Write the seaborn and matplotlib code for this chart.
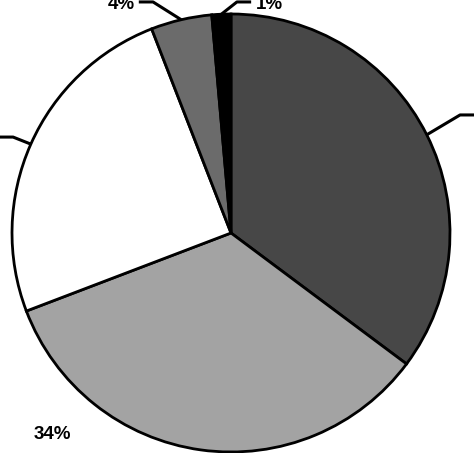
import numpy as np
import seaborn as sns
import matplotlib.pyplot as plt

# slice shares (percent), clockwise from 12 o'clock
shares = [35.2, 34.0, 24.9, 4.5, 1.4]
labels = ['35%', '34%', '25%', '4%', '1%']
colors = ['#474747', '#a3a3a3', '#ffffff', '#6b6b6b', '#000000']

sns.set_style('white')
plt.rcParams['font.family'] = ['Liberation Sans', 'DejaVu Sans']

fig = plt.figure(figsize=(4.74, 4.53), dpi=100)
ax = fig.add_axes([0, 0, 1, 1])

wedges, _ = ax.pie(shares, colors=colors, startangle=90, counterclock=False,
                   wedgeprops=dict(edgecolor='black', linewidth=2))

# elbow points of the leader lines (None = label without leader)
elbows = [(1.046, 0.539), None, (-0.995, 0.438), (-0.356, 1.055), (0.027, 1.055)]
free_pos = {1: (-0.817, -0.918)}

for i, w in enumerate(wedges):
    if elbows[i] is None:
        x, y = free_pos[i]
        ax.text(x, y, labels[i], ha='center', va='center', fontsize=13.5,
                fontweight='bold', color='black')
        continue
    mid = np.deg2rad((w.theta1 + w.theta2) / 2)
    x0, y0 = np.cos(mid), np.sin(mid)
    ex, ey = elbows[i]
    side = 1 if ex > x0 else -1
    hx = ex + side * 0.065
    ax.plot([x0, ex, hx], [y0, ey, ey], color='black', lw=2.2, solid_capstyle='butt')
    ax.text(hx + side * 0.02, ey - 0.012, labels[i], ha='left' if side > 0 else 'right',
            va='center', fontsize=13.5, fontweight='bold', color='black')

ax.set_xlim(-1.0548, 1.1096)
ax.set_ylim(-1.0046, 1.0639)
ax.axis('off')

fig.savefig('out.png', dpi=100)
